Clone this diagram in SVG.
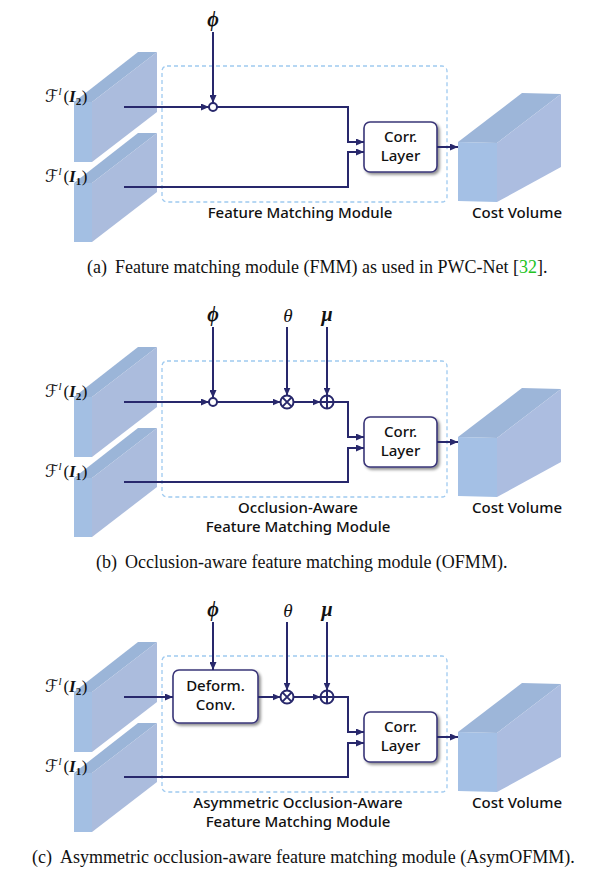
<svg xmlns="http://www.w3.org/2000/svg" width="600" height="880" viewBox="0 0 600 880">
<defs>
<style>
.front{fill:#a3bfe3}
.top{fill:#9bb5d8}
.side{fill:#abbcdd}
.cvfront{fill:#a4c0e5}
.cvtop{fill:#9db6d9}
.cvside{fill:#acbde0}
.dash{fill:none;stroke:#9fcaf0;stroke-width:1.3;stroke-dasharray:4 3}
.box{fill:#ffffff;stroke:#3a3678;stroke-width:1.6}
.wire{fill:none;stroke:#28286c;stroke-width:2}
.arr{fill:none;stroke:#28286c;stroke-width:2;marker-end:url(#ah)}
.op{fill:#ffffff;stroke:#28286c;stroke-width:2}
.sans{font-family:"Noto Sans","Open Sans","Liberation Sans",sans-serif;font-size:15px;font-weight:500;fill:#111111;text-anchor:middle}
.cap{font-family:"Liberation Serif","Times New Roman",serif;font-size:18px;fill:#111111}
.math{font-family:"Liberation Serif","DejaVu Serif",serif;fill:#111111}
</style>
<marker id="ah" viewBox="0 0 8 7" refX="8" refY="3.5" markerWidth="8" markerHeight="7" markerUnits="userSpaceOnUse" orient="auto">
<path d="M0,0 L8,3.5 L0,7 z" fill="#28286c"/>
</marker>
<filter id="sh" x="-20%" y="-20%" width="150%" height="150%">
<feGaussianBlur in="SourceAlpha" stdDeviation="1.5"/>
<feOffset dx="2" dy="2" result="b"/>
<feComponentTransfer><feFuncA type="linear" slope="0.45"/></feComponentTransfer>
<feMerge><feMergeNode/><feMergeNode in="SourceGraphic"/></feMerge>
</filter>
<g id="slabs">
<polygon class="front" points="74,102 92,102 92,162 74,162"/>
<polygon class="top" points="74,102 138,52 157,52 92,102"/>
<polygon class="side" points="92,102 157,52 157,112 92,162"/>
<polygon class="front" points="74,183 92,183 92,242 74,242"/>
<polygon class="top" points="74,183 138,133 157,133 92,183"/>
<polygon class="side" points="92,183 157,133 157,192 92,242"/>
</g>
<g id="cv">
<polygon class="cvfront" points="458,142 497,143 497,202 458,201"/>
<polygon class="cvtop" points="458,142 522,93 561,94 497,143"/>
<polygon class="cvside" points="497,143 561,94 561,167 497,202"/>
</g>
<g id="flabels">
<text class="math" x="45" y="102" font-size="17"><tspan font-family="DejaVu Sans">ℱ</tspan><tspan font-size="11" dy="-7" font-style="italic">l</tspan><tspan dy="7" dx="2">(</tspan><tspan font-style="italic" font-weight="bold">I</tspan><tspan font-size="11" font-weight="bold" dy="3">2</tspan><tspan dy="-3" dx="0.5">)</tspan></text>
<text class="math" x="45" y="182" font-size="17"><tspan font-family="DejaVu Sans">ℱ</tspan><tspan font-size="11" dy="-7" font-style="italic">l</tspan><tspan dy="7" dx="2">(</tspan><tspan font-style="italic" font-weight="bold">I</tspan><tspan font-size="11" font-weight="bold" dy="3">1</tspan><tspan dy="-3" dx="0.5">)</tspan></text>
</g>
<g id="corr">
<rect class="box" x="364" y="122" width="73" height="50" rx="6" filter="url(#sh)"/>
<text class="sans" x="400.5" y="142">Corr.</text>
<text class="sans" x="400.5" y="161">Layer</text>
</g>
</defs>

<!-- Panel (a) -->
<g id="panel-a">
<g id="a-features"><use href="#slabs"/><use href="#flabels"/></g>
<rect id="a-module" class="dash" x="162" y="66" width="285" height="136" rx="5"/>
<g id="a-phi"><text class="math" x="213" y="26" font-size="20" font-style="italic" font-weight="bold" text-anchor="middle">ϕ</text></g>
<g id="a-corr"><use href="#corr"/></g>
<g id="a-costvolume"><use href="#cv"/><text class="sans" x="517" y="218">Cost Volume</text></g>
<g id="a-connectors">
<path class="arr" d="M213,32 V103"/>
<path class="arr" d="M124,107 H209"/>
<path class="arr" d="M217,107 H348 V142 H364"/>
<path class="arr" d="M124,187 H348 V152 H364"/>
<path class="arr" d="M437,147 H458"/>
</g>
<g id="a-compose"><circle class="op" cx="213" cy="107" r="4"/></g>
<text class="sans" x="300" y="218">Feature Matching Module</text>
<text class="cap" x="87" y="273">(a)<tspan dx="8">Feature matching module (FMM) as used in PWC-Net [</tspan><tspan fill="#22c322">32</tspan>].</text>
</g>

<!-- Panel (b) -->
<g id="panel-b" transform="translate(0,295)">
<g id="b-features"><use href="#slabs"/><use href="#flabels"/></g>
<rect id="b-module" class="dash" x="162" y="66" width="285" height="136" rx="5"/>
<g id="b-params">
<text class="math" x="213" y="26" font-size="20" font-style="italic" font-weight="bold" text-anchor="middle">ϕ</text>
<text class="math" x="288" y="27" font-size="19" font-style="italic" text-anchor="middle">θ</text>
<text class="math" x="327" y="26" font-size="20" font-style="italic" font-weight="bold" text-anchor="middle">μ</text>
</g>
<g id="b-corr"><use href="#corr"/></g>
<g id="b-costvolume"><use href="#cv"/><text class="sans" x="517" y="218">Cost Volume</text></g>
<g id="b-connectors">
<path class="arr" d="M213,32 V103"/>
<path class="arr" d="M287,32 V100.5"/>
<path class="arr" d="M327,32 V100.5"/>
<path class="arr" d="M124,107 H209"/>
<path class="arr" d="M217,107 H280.5"/>
<path class="arr" d="M293.5,107 H320.5"/>
<path class="arr" d="M333.5,107 H348 V142 H364"/>
<path class="arr" d="M124,187 H348 V153 H364"/>
<path class="arr" d="M437,147 H458"/>
</g>
<g id="b-compose"><circle class="op" cx="213" cy="107" r="4"/></g>
<g id="b-mul"><circle class="op" cx="287" cy="107" r="6.5"/><path class="wire" stroke-width="1.8" d="M282.4,102.4 L291.6,111.6 M291.6,102.4 L282.4,111.6"/></g>
<g id="b-add"><circle class="op" cx="327" cy="107" r="6.5"/><path class="wire" stroke-width="1.8" d="M320.5,107 H333.5 M327,100.5 V113.5"/></g>
<text class="sans" x="298" y="218">Occlusion-Aware</text>
<text class="sans" x="298" y="237">Feature Matching Module</text>
<text class="cap" x="96" y="273">(b)<tspan dx="8">Occlusion-aware feature matching module (OFMM).</tspan></text>
</g>

<!-- Panel (c) -->
<g id="panel-c" transform="translate(0,590)">
<g id="c-features"><use href="#slabs"/><use href="#flabels"/></g>
<rect id="c-module" class="dash" x="162" y="66" width="285" height="136" rx="5"/>
<g id="c-params">
<text class="math" x="213" y="26" font-size="20" font-style="italic" font-weight="bold" text-anchor="middle">ϕ</text>
<text class="math" x="288" y="27" font-size="19" font-style="italic" text-anchor="middle">θ</text>
<text class="math" x="327" y="26" font-size="20" font-style="italic" font-weight="bold" text-anchor="middle">μ</text>
</g>
<g id="c-deform">
<rect class="box" x="173" y="80" width="85" height="53" rx="6" filter="url(#sh)"/>
<text class="sans" x="215.5" y="101">Deform.</text>
<text class="sans" x="215.5" y="120">Conv.</text>
</g>
<g id="c-corr"><use href="#corr"/></g>
<g id="c-costvolume"><use href="#cv"/><text class="sans" x="517" y="218">Cost Volume</text></g>
<g id="c-connectors">
<path class="arr" d="M213,32 V80"/>
<path class="arr" d="M287,32 V100.5"/>
<path class="arr" d="M327,32 V100.5"/>
<path class="arr" d="M124,107 H173"/>
<path class="arr" d="M258,107 H280.5"/>
<path class="arr" d="M293.5,107 H320.5"/>
<path class="arr" d="M333.5,107 H348 V142 H364"/>
<path class="arr" d="M124,187 H348 V153 H364"/>
<path class="arr" d="M437,147 H458"/>
</g>
<g id="c-mul"><circle class="op" cx="287" cy="107" r="6.5"/><path class="wire" stroke-width="1.8" d="M282.4,102.4 L291.6,111.6 M291.6,102.4 L282.4,111.6"/></g>
<g id="c-add"><circle class="op" cx="327" cy="107" r="6.5"/><path class="wire" stroke-width="1.8" d="M320.5,107 H333.5 M327,100.5 V113.5"/></g>
<text class="sans" x="298" y="218">Asymmetric Occlusion-Aware</text>
<text class="sans" x="298" y="237">Feature Matching Module</text>
<text class="cap" x="32" y="273">(c)<tspan dx="8">Asymmetric occlusion-aware feature matching module (AsymOFMM).</tspan></text>
</g>
</svg>
